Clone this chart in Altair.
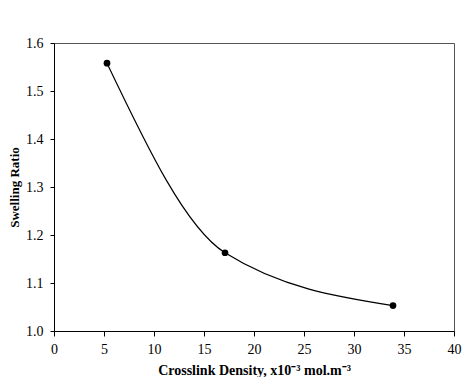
import altair as alt
import pandas as pd

crosslink_density = [5.3, 17.1, 33.9]
swelling_ratio = [1.558, 1.163, 1.053]
x_ticks = [0, 5, 10, 15, 20, 25, 30, 35, 40]
y_ticks = [1.0, 1.1, 1.2, 1.3, 1.4, 1.5, 1.6]

df = pd.DataFrame({"x": crosslink_density, "y": swelling_ratio})

FONT = "Liberation Serif"

x_enc = alt.X("x:Q", scale=alt.Scale(domain=[0, 40], nice=False),
              axis=alt.Axis(values=x_ticks, title="Crosslink Density, x10\u207b\u00b3 mol.m\u207b\u00b3",
                            grid=False, tickSize=5, labelPadding=6,
                            domainColor="black", tickColor="black", labelColor="black",
                            labelFontSize=14, titleFontSize=14, labelFont=FONT, titleFont=FONT,
                            titleFontWeight="bold", titleColor="black", labelFlush=False,
                            titleY=43, titleBaseline="alphabetic"))
y_enc = alt.Y("y:Q", scale=alt.Scale(domain=[1.0, 1.6], nice=False, zero=False),
              axis=alt.Axis(values=y_ticks, format=".1f", title="Swelling Ratio",
                            grid=False, tickSize=4, labelPadding=7,
                            domainColor="black", tickColor="black", labelColor="black",
                            labelFontSize=14, titleFontSize=13, labelFont=FONT, titleFont=FONT,
                            titleFontWeight="bold", titleColor="black", labelFlush=False,
                            titleX=-36, titleY=144, titleAngle=270, titleBaseline="alphabetic",
                            titleAlign="center"))

line = alt.Chart(df).mark_line(interpolate="monotone", color="black", strokeWidth=1.2).encode(x=x_enc, y=y_enc)
pts = alt.Chart(df).mark_circle(color="black", size=45, opacity=1).encode(x="x:Q", y="y:Q")

chart = (line + pts).properties(
    width=400, height=288,
    autosize=alt.AutoSizeParams(type="none"),
    padding={"left": 46, "top": 35, "right": 10, "bottom": 46},
).configure_view(stroke="#555555", strokeWidth=1)

chart.save("out.html", embed_options={"renderer": "svg", "actions": False})
